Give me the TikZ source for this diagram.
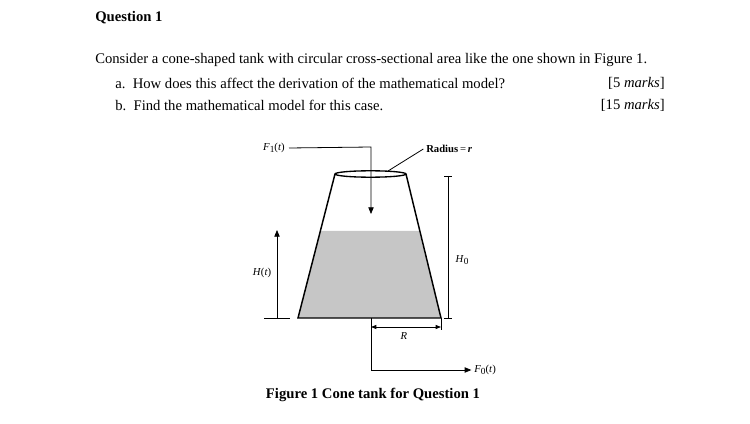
\documentclass[tikz,border=0pt]{standalone}
\usepackage{fontspec}
\setmainfont{Liberation Serif}
\usetikzlibrary{arrows.meta}
\newcommand{\sbs}[1]{\raisebox{-0.35ex}{\scriptsize #1}}
\begin{document}
\begin{tikzpicture}[x=0.75pt,y=-0.75pt,
  txt/.style={inner sep=0pt,font=\fontsize{11}{13}\selectfont},
  lbl/.style={inner sep=0pt,font=\fontsize{8}{9}\selectfont},
  ln/.style={line width=0.6pt},
  arr/.style={ln,-{Triangle[length=5pt,width=4pt]}}]
\useasboundingbox (0,0) rectangle (750,424);
\node[txt,anchor=west,font=\fontsize{11}{13}\selectfont\bfseries] (q) at (95,18) {Question 1};
\node[txt,anchor=west] (t0) at (95,60) {Consider a cone-shaped tank with circular cross-sectional area like the one shown in Figure 1.};
\node[txt,anchor=west] (ta) at (115,83) {a.\enspace How does this affect the derivation of the mathematical model?};
\node[txt,anchor=west] (tb) at (115,105) {b.\enspace Find the mathematical model for this case.};
\node[txt,anchor=east] (ma) at (665,83) {[5 \textit{marks}]};
\node[txt,anchor=east] (mb) at (665,105) {[15 \textit{marks}]};
% tank
\fill[gray!45] (320,231) -- (419,231) -- (441,318) -- (298,318) -- cycle;
\draw[line width=1.1pt] (335,174) -- (298,318) -- (441,318) -- (406,174);
\draw[line width=1pt] (370.5,174) ellipse (35.5 and 3.2);
\coordinate (lead) at (388,171);
\node[lbl,anchor=west] (rad) at (426,149) {\textbf{Radius}\,=\,\textit{\textbf{r}}};
\draw[ln] (lead) -- ([xshift=-2pt]rad.west);
\node[lbl,anchor=east] (f1) at (285,148) {\textit{F}\sbs{1}(\textit{t})};
\coordinate (f1c) at (371,147);
\coordinate (f1e) at (371,214);
\draw[arr] ([xshift=3pt]f1.east) -- (f1c) -- (f1e);
% H0
\coordinate (h0t) at (448,176); \coordinate (h0b) at (448,318);
\draw[ln] (h0t) -- (h0b);
\draw[ln] (444,176) -- (452,176); \draw[ln] (444,318) -- (452,318);
\node[lbl] (h0) at (462,260) {\textit{H}\sbs{0}};
% H(t)
\coordinate (hb) at (277,318); \coordinate (ht) at (277,230);
\draw[arr] (hb) -- (ht);
\draw[ln] (264,318) -- (290,318);
\node[lbl] (h) at (262,273) {\textit{H}(\textit{t})};
% R
\coordinate (r1) at (371,327); \coordinate (r2) at (441,327);
\draw[ln,{Triangle[length=4pt,width=3pt]}-{Triangle[length=4pt,width=3pt]}] (r1) -- (r2);
\draw[ln] (441,318) -- (441,330);
\node[lbl] (rl) at (404,336) {\textit{R}};
% outflow
\coordinate (o1) at (371,318); \coordinate (o2) at (371,370);
\node[lbl,anchor=west] (f0) at (474,370) {\textit{F}\sbs{0}(\textit{t})};
\draw[arr] (o1) -- (o2) -- ([xshift=-2pt]f0.west);
\node[txt,font=\fontsize{11}{13}\selectfont\bfseries] (cap) at (373,395) {Figure 1 Cone tank for Question 1};
\end{tikzpicture}
\end{document}
